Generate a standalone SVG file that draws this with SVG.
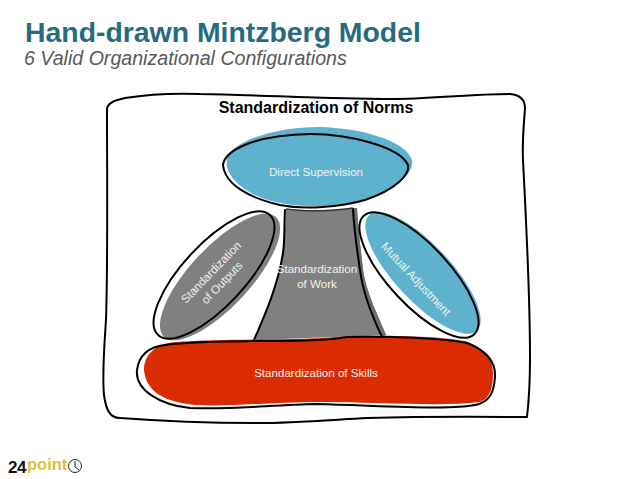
<svg xmlns="http://www.w3.org/2000/svg" width="638" height="479" viewBox="0 0 638 479">
<style>
.ink{fill:none;stroke:#000;stroke-width:2;stroke-linejoin:round;stroke-linecap:round}
.blue{fill:#5fb2cd}.gray{fill:#808080}.red{fill:#db2b00}
.lbl{font-family:"Liberation Sans",Arial,sans-serif;font-size:11.6px;fill:#f2f2f2;text-anchor:middle}
text{font-family:"Liberation Sans",Arial,sans-serif}
</style>
<rect width="638" height="479" fill="#fff"/>
<text x="25" y="42" font-size="28.4" font-weight="bold" fill="#266b7e">Hand-drawn Mintzberg Model</text>
<text x="24" y="65" font-size="19.6" font-style="italic" fill="#595959">6 Valid Organizational Configurations</text>
<g id="frame">
<path class="ink" d="M107 108C109 102 116 100 125 98C150 94 175 93 200 94C260 95 330 99 390 99C430 99 470 94 510 94C520 95 525 100 525 108C524 125 522 140 523 160C526 220 530 290 530 357C530 380 529 400 527 417C500 417 440 416 367 418C330 420 290 423 260 423C210 423 160 421 120 418C110 418 106 410 104 395C102 375 104 350 106 320C108 260 107 170 107 108Z"/>
<text x="316" y="112.500" font-size="16" font-weight="bold" text-anchor="middle" fill="#000">Standardization of Norms</text>
</g>
<g id="work">
<path class="gray" d="M286 210C305 211 335 210 357 208C358 230 361 250 363 270C367 295 378 315 386 335L255 340C265 315 278 285 283 253C285 240 285 225 286 210Z"/>
<path d="M352 208L357 208C358 230 361 250 363 270C367 295 378 315 386 335L382 337C372 315 362 295 360 270C358 250 354 230 352 208Z" fill="#6e6e6e"/>
<path class="ink" d="M285 210C284 225 285 240 283 253C278 285 265 315 254 340M353 209C354 230 357 250 360 270C363 295 373 318 382 337"/>
<path d="M286 209C305 212 335 211 353 208" fill="none" stroke="#333" stroke-width="1.5"/>
<text class="lbl"><tspan x="317" y="273">Standardization</tspan><tspan x="317" y="288">of Work</tspan></text>
</g>
<g id="outputs">
<ellipse class="gray" cx="0" cy="0" rx="82" ry="30" transform="translate(220 277) rotate(-47)"/>
<ellipse class="ink" cx="0" cy="0" rx="82" ry="31" transform="translate(214 275) rotate(-47)"/>
<text class="lbl" transform="translate(214 275) rotate(-46)"><tspan x="0" y="0">Standardization</tspan><tspan x="0" y="15">of Outputs</tspan></text>
</g>
<g id="mutual">
<ellipse class="blue" cx="0" cy="0" rx="79" ry="28" transform="translate(423 273) rotate(47)"/>
<ellipse class="ink" cx="0" cy="0" rx="81" ry="30" transform="translate(419 275) rotate(47)"/>
<text class="lbl" transform="translate(416 279) rotate(47)" x="0" y="4">Mutual Adjustment</text>
</g>
<g id="supervision">
<path class="blue" d="M228 155C240 138 280 127 320 127C360 128 405 140 412 160C415 175 390 195 350 203C320 209 280 207 255 195C235 185 222 170 228 155Z"/>
<path class="ink" d="M223 165C225 150 255 135 310 134C350 134 400 147 408 165C410 175 395 190 365 200C340 207 305 210 280 205C250 198 225 185 223 165Z"/>
<text class="lbl" x="316" y="176">Direct Supervision</text>
</g>
<g id="skills">
<path class="red" d="M144 370C144 355 155 344 175 342C230 338 300 341 347 336C390 335 440 336 465 341C483 347 493 358 493 373C493 388 490 398 480 402C440 407 380 402 317 402C270 402 230 407 195 405C165 402 146 392 144 370Z"/>
<path class="ink" d="M137 370C139 355 148 347 165 345C195 341 225 342 253 341C290 341 325 341 347 337C390 336 440 338 467 343C485 350 496 360 495 377C494 392 490 402 475 405C450 410 390 406 317 404C270 405 230 410 190 408C160 405 135 390 137 370Z"/>
<text class="lbl" x="316" y="377">Standardization of Skills</text>
</g>
<g id="logo">
<text x="8" y="473" font-size="17" font-weight="bold" fill="#111" letter-spacing="-0.500">24</text>
<text x="27" y="470" font-size="16.500" font-weight="bold" fill="#e5bd3f">point</text>
<circle cx="75" cy="466" r="6.500" fill="#fff" stroke="#222" stroke-width="1"/>
<path d="M75 461V467L79 470" fill="none" stroke="#222" stroke-width="1"/>
</g>
</svg>
